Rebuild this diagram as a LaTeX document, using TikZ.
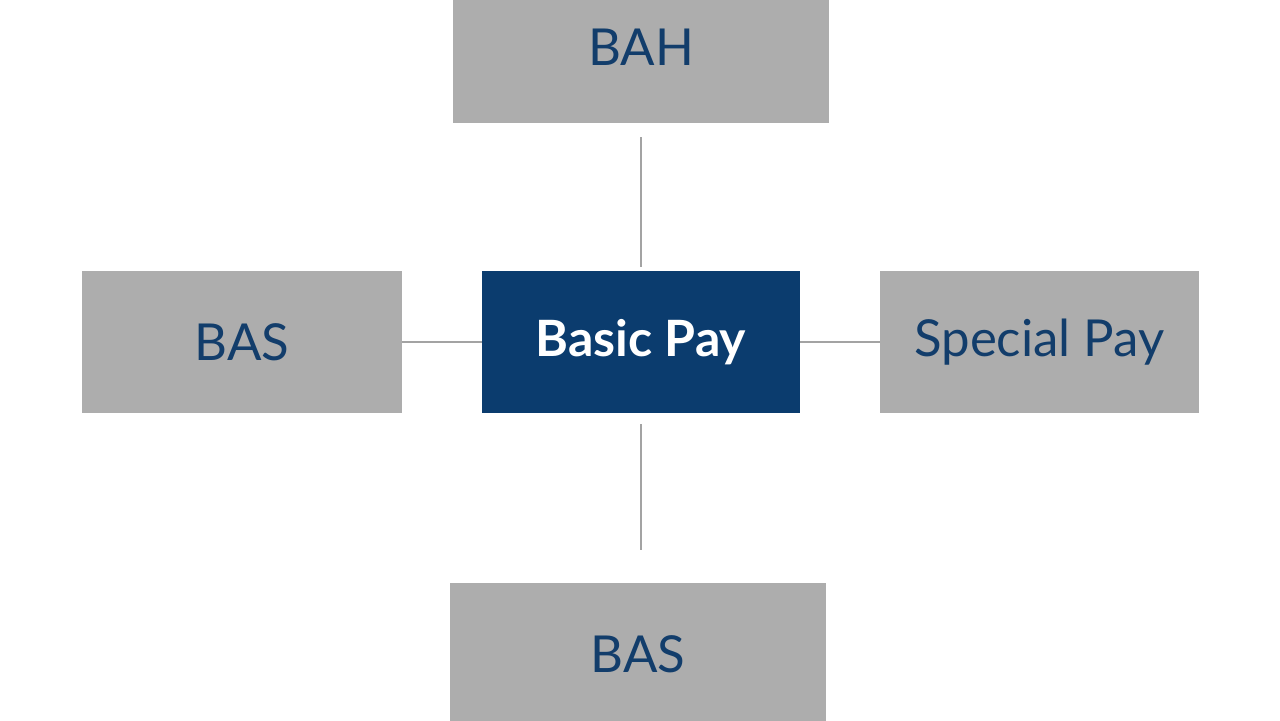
\documentclass[tikz,border=0pt]{standalone}
\usepackage{fontspec}
\setmainfont{Lato}
\definecolor{boxgray}{HTML}{ADADAD}
\definecolor{navy}{HTML}{0B3C6E}
\definecolor{txtblue}{HTML}{123D6B}
\definecolor{linegray}{HTML}{A3A3A3}
\begin{document}
\begin{tikzpicture}[x=0.02cm,y=-0.02cm,
  graybox/.style={fill=boxgray,draw=none,inner sep=0pt,text=txtblue,font=\fontsize{29}{32}\selectfont},
  bluebox/.style={fill=navy,draw=none,inner sep=0pt,text=white,font=\fontsize{28.5}{32}\selectfont\bfseries},
  conn/.style={draw=linegray,line width=1.6pt}]
\useasboundingbox (0,0) rectangle (1280,720);
\clip (0,0) rectangle (1280,720);
\node[graybox,minimum width=376*0.02cm,minimum height=152*0.02cm] (bah) at (641,47) {BAH};
\node[graybox,minimum width=320*0.02cm,minimum height=142*0.02cm] (basl) at (242,342) {BAS};
\node[bluebox,minimum width=318*0.02cm,minimum height=142*0.02cm] (basic) at (641,342) {Basic Pay};
\node[graybox,minimum width=319*0.02cm,minimum height=142*0.02cm] (spec) at (1039.5,342) {Special Pay};
\node[graybox,minimum width=376*0.02cm,minimum height=142*0.02cm] (basb) at (638,654) {BAS};
\draw[conn,shorten <=0.28cm,shorten >=0.08cm] (bah.south -| basic.north) -- (basic.north);
\draw[conn,shorten <=0.22cm,shorten >=0.66cm] (basic.south) -- (basic.south |- basb.north);
\draw[conn] (basl.east) -- (basic.west);
\draw[conn] (basic.east) -- (spec.west);
\end{tikzpicture}
\end{document}
